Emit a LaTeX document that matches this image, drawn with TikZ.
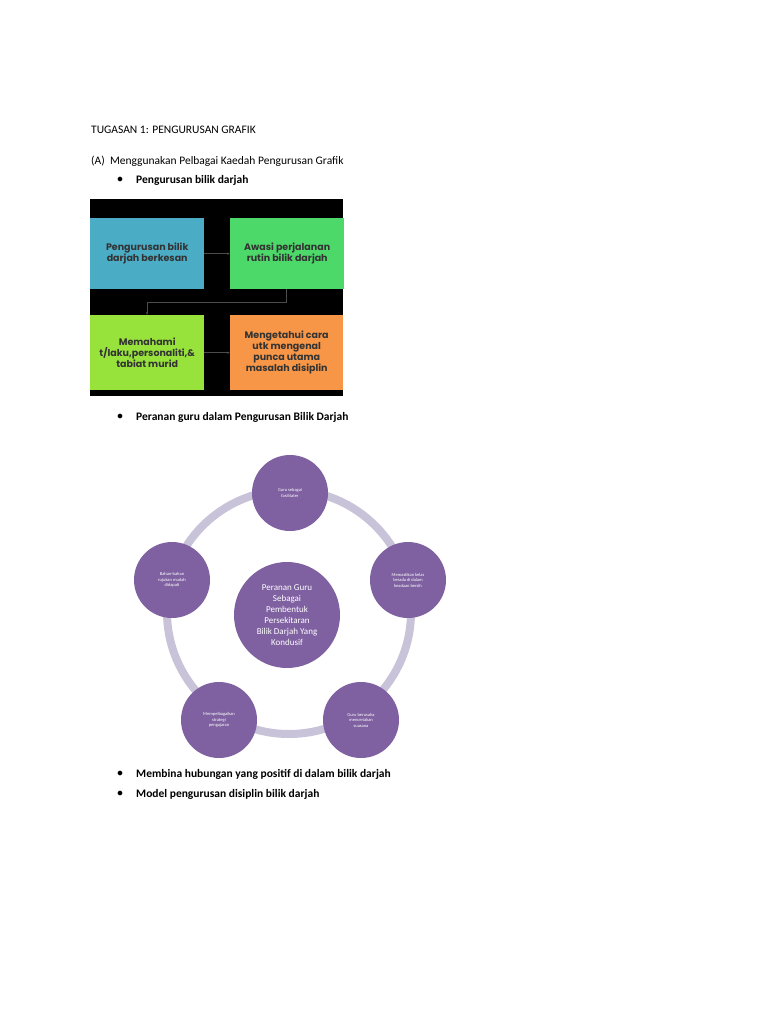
\documentclass[tikz,border=0pt]{standalone}
\usepackage{fontspec}
\setmainfont{Carlito}
\newfontfamily\boxfont{Poppins}
\usetikzlibrary{arrows.meta}
\definecolor{cblue}{HTML}{4BACC6}
\definecolor{cgreen}{HTML}{4CD96A}
\definecolor{clime}{HTML}{98E23C}
\definecolor{corange}{HTML}{F79646}
\definecolor{purp}{HTML}{7F61A1}
\definecolor{ring}{HTML}{C8C3D9}
\begin{document}
\begin{tikzpicture}[x=1pt,y=-1pt,
  txt/.style={anchor=west,inner sep=0pt,font=\fontsize{11.5}{13}\selectfont},
  btxt/.style={txt,font=\fontsize{11.5}{13}\selectfont\bfseries},
  box/.style={draw=none,minimum width=114pt,minimum height=71pt,inner sep=2pt,align=center,font=\boxfont\fontsize{9.5}{11}\selectfont\bfseries,text=black!80},
  arr/.style={draw=gray!60!black,line width=0.5pt,-{Stealth[length=3pt]}},
  circ/.style={circle,fill=purp,minimum size=76pt,inner sep=1pt,align=center,text=white,font=\fontsize{4.5}{5.5}\selectfont}]
\useasboundingbox (0,0) rectangle (768,1024);
\fill[white] (0,0) rectangle (768,1024);
\node[txt] (t1) at (91,130) {TUGASAN 1: PENGURUSAN GRAFIK};
\node[txt] (t2) at (91,161) {(A)\ \ Menggunakan Pelbagai Kaedah Pengurusan Grafik};
\node[btxt] (b1d) at (117,180) {$\bullet$};
\node[btxt] (b1) at (136,180) {Pengurusan bilik darjah};
% flowchart
\fill[black] (90,199) rectangle (343,396);
\node[box,fill=cblue,anchor=north west] (a) at (90,218) {Pengurusan bilik\\darjah berkesan};
\node[box,fill=cgreen,anchor=north west] (b) at (230,218) {Awasi perjalanan\\rutin bilik darjah};
\node[box,fill=clime,anchor=north west,minimum height=75pt] (c) at (90,315) {Memahami\\t/laku,personaliti,\&\\tabiat murid};
\node[box,fill=corange,anchor=north west,minimum height=75pt,minimum width=113pt] (d) at (230,315) {Mengetahui cara\\utk mengenal\\punca utama\\masalah disiplin};
\draw[arr] (a) -- (b);
\coordinate (e1) at (286,302);
\coordinate (e2) at (147,302);
\draw[arr] (b.south -| e1) -- (e1) -- (e2) -- (c.north -| e2);
\draw[arr] (c) -- (d);
\node[btxt] (b2d) at (117,417) {$\bullet$};
\node[btxt] (b2) at (136,417) {Peranan guru dalam Pengurusan Bilik Darjah};
% cycle
\coordinate (O) at (289,612);
\draw[ring,line width=8pt] (O) circle (122);
\node[circle,fill=purp,minimum size=106pt,inner sep=0pt,align=center,text=white,font=\fontsize{9}{11}\selectfont] (m) at (287,615) {Peranan Guru\\Sebagai\\Pembentuk\\Persekitaran\\Bilik Darjah Yang\\Kondusif};
\node[circ] (p1) at (290,493) {Guru sebagai\\fasilitater};
\node[circ] (p2) at (408,580) {Memastikan kelas\\berada di dalam\\keadaan bersih};
\node[circ] (p3) at (361,720) {Guru berusaha\\menceriakan\\suasana};
\node[circ] (p4) at (219,720) {Mempelbagaikan\\strategi\\pengajaran};
\node[circ] (p5) at (172,580) {Bahan-bahan\\rujukan mudah\\didapati};
\node[btxt] (b3d) at (117,774) {$\bullet$};
\node[btxt] (b3) at (136,774) {Membina hubungan yang positif di dalam bilik darjah};
\node[btxt] (b4d) at (117,794) {$\bullet$};
\node[btxt] (b4) at (136,794) {Model pengurusan disiplin bilik darjah};
\end{tikzpicture}
\end{document}
